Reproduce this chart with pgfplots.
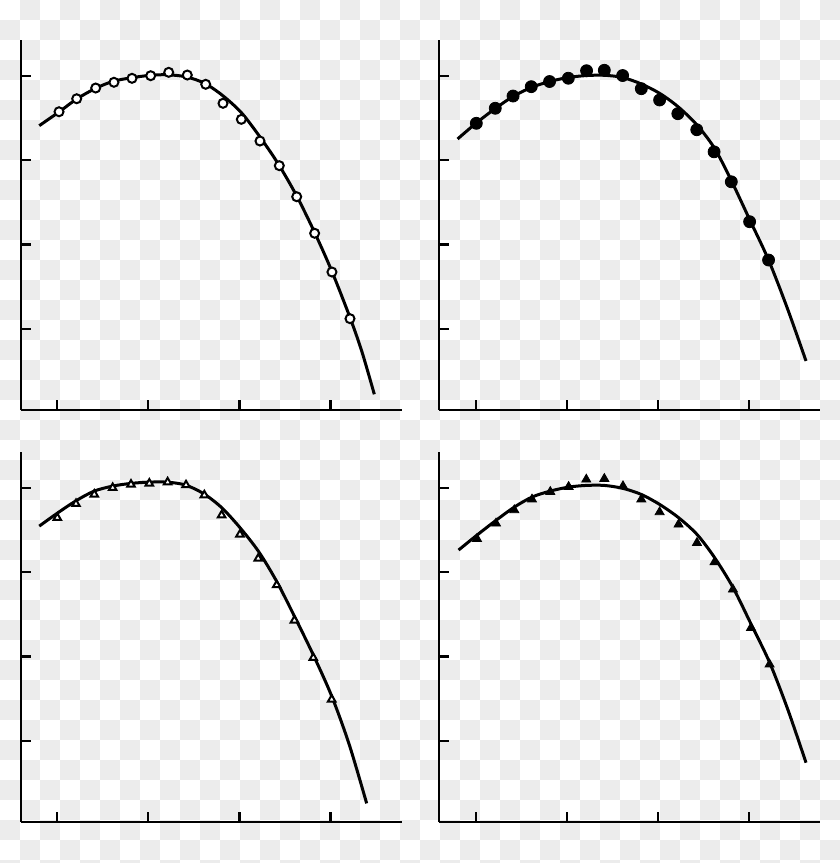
\documentclass[border=0pt]{standalone}
\usepackage{pgfplots}
\pgfplotsset{compat=1.18}

\definecolor{chk}{RGB}{236,236,236}

% one panel: bare left/bottom axes, inward ticks, no labels
\pgfplotsset{panel/.style={
  scale only axis, width=190.5pt, height=185pt,
  anchor=south west,
  xmin=0.6015, xmax=4.784, ymin=0.039, ymax=4.423,
  axis x line*=bottom, axis y line*=left,
  xtick={1,2,3,4}, ytick={1,2,3,4},
  xticklabels={}, yticklabels={},
  tick align=inside, major tick length=5pt,
  axis line style={line width=1.1pt, black},
  tick style={line width=1.1pt, black},
  clip=false,
},
fit/.style={smooth, line width=1.5pt, black, no marks},
}

\begin{document}
\begin{tikzpicture}
\useasboundingbox (0,0) rectangle (420pt,431.5pt);

% transparency checkerboard behind the figure
\begin{scope}
\clip (0,0) rectangle (420pt,431.5pt);
\foreach \i in {0,...,41}{
  \foreach \j in {0,...,43}{
    \ifodd\numexpr\i+\j\relax
      \fill[chk] (\i*10pt, 431.5pt-\j*10pt) rectangle ++(10pt,-10pt);
    \fi
  }
}
\end{scope}

% top left: open circles
\begin{axis}[panel, at={(10.5pt,226.5pt)}]
\addplot[fit] coordinates {
(0.802,3.408)(1.022,3.573)(1.213,3.724)(1.4215,3.851)(1.615,3.934)(1.817,3.976)
(2.025,4.005)(2.215,4.011)(2.420,3.985)(2.621,3.908)(2.822,3.759)(3.024,3.558)
(3.225,3.274)(3.426,2.954)(3.628,2.575)(3.825,2.142)(4.015,1.680)(4.213,1.135)
(4.345,0.726)(4.480,0.225)};
\addplot[only marks, mark=*, mark size=2.25pt, mark options={fill=white, draw=black, line width=1pt}] coordinates {
(1.019,3.573)(1.213,3.727)(1.4215,3.854)(1.622,3.922)(1.820,3.969)(2.025,4.000)
(2.223,4.040)(2.427,4.008)(2.629,3.898)(2.819,3.673)(3.020,3.483)(3.225,3.226)
(3.437,2.934)(3.628,2.566)(3.825,2.133)(4.015,1.674)(4.213,1.121)};
\end{axis}

% top right: filled circles
\begin{axis}[panel, at={(219.65pt,226.5pt)}]
\addplot[fit] coordinates {
(0.802,3.250)(1.008,3.440)(1.216,3.611)(1.411,3.754)(1.611,3.860)(1.812,3.931)
(2.018,3.979)(2.221,4.002)(2.413,4.005)(2.614,3.979)(2.819,3.902)(3.020,3.791)
(3.222,3.633)(3.430,3.416)(3.623,3.140)(3.807,2.758)(4.008,2.296)(4.216,1.816)
(4.421,1.248)(4.627,0.620)};
\addplot[only marks, mark=*, mark size=3pt, mark options={fill=black, draw=black, line width=0.4pt}] coordinates {
(1.008,3.436)(1.216,3.614)(1.411,3.759)(1.611,3.870)(1.812,3.931)(2.018,3.970)
(2.218,4.059)(2.413,4.064)(2.614,4.002)(2.819,3.846)(3.020,3.712)(3.220,3.550)
(3.428,3.360)(3.618,3.098)(3.807,2.743)(4.008,2.270)(4.216,1.816)};
\end{axis}

% bottom left: open triangles
\begin{axis}[panel, at={(10.5pt,20.5pt)}]
\addplot[fit] coordinates {
(0.802,3.545)(1.008,3.704)(1.213,3.850)(1.406,3.960)(1.608,4.019)(1.809,4.051)
(2.010,4.066)(2.207,4.066)(2.409,4.031)(2.610,3.927)(2.805,3.763)(3.006,3.526)
(3.211,3.242)(3.408,2.890)(3.602,2.479)(3.810,2.019)(4.012,1.531)(4.204,0.959)
(4.396,0.260)};
\addplot[only marks, mark=triangle*, mark size=2.15pt, mark options={fill=white, draw=black, line width=1pt}] coordinates {
(1.000,3.644)(1.205,3.809)(1.406,3.921)(1.608,3.999)(1.809,4.039)(2.010,4.051)
(2.211,4.066)(2.413,4.031)(2.614,3.912)(2.804,3.675)(3.005,3.447)(3.206,3.162)
(3.408,2.846)(3.603,2.428)(3.810,1.985)(4.012,1.492)};
\end{axis}

% bottom right: filled triangles
\begin{axis}[panel, at={(219.65pt,20.5pt)}]
\addplot[fit] coordinates {
(0.813,3.261)(1.015,3.438)(1.224,3.613)(1.425,3.770)(1.619,3.889)(1.820,3.960)
(2.021,4.007)(2.215,4.027)(2.413,4.027)(2.618,3.992)(2.819,3.920)(3.020,3.802)
(3.228,3.645)(3.430,3.447)(3.622,3.174)(3.825,2.819)(4.023,2.386)(4.227,1.930)
(4.427,1.373)(4.627,0.742)};
\addplot[only marks, mark=triangle*, mark size=2.6pt, mark options={fill=black, draw=black, line width=0.4pt}] coordinates {
(1.015,3.395)(1.224,3.577)(1.425,3.735)(1.619,3.862)(1.820,3.952)(2.021,4.011)
(2.215,4.098)(2.413,4.106)(2.618,4.019)(2.819,3.862)(3.020,3.711)(3.228,3.565)
(3.430,3.347)(3.622,3.117)(3.825,2.795)(4.023,2.340)(4.227,1.907)};
\end{axis}
\end{tikzpicture}
\end{document}
